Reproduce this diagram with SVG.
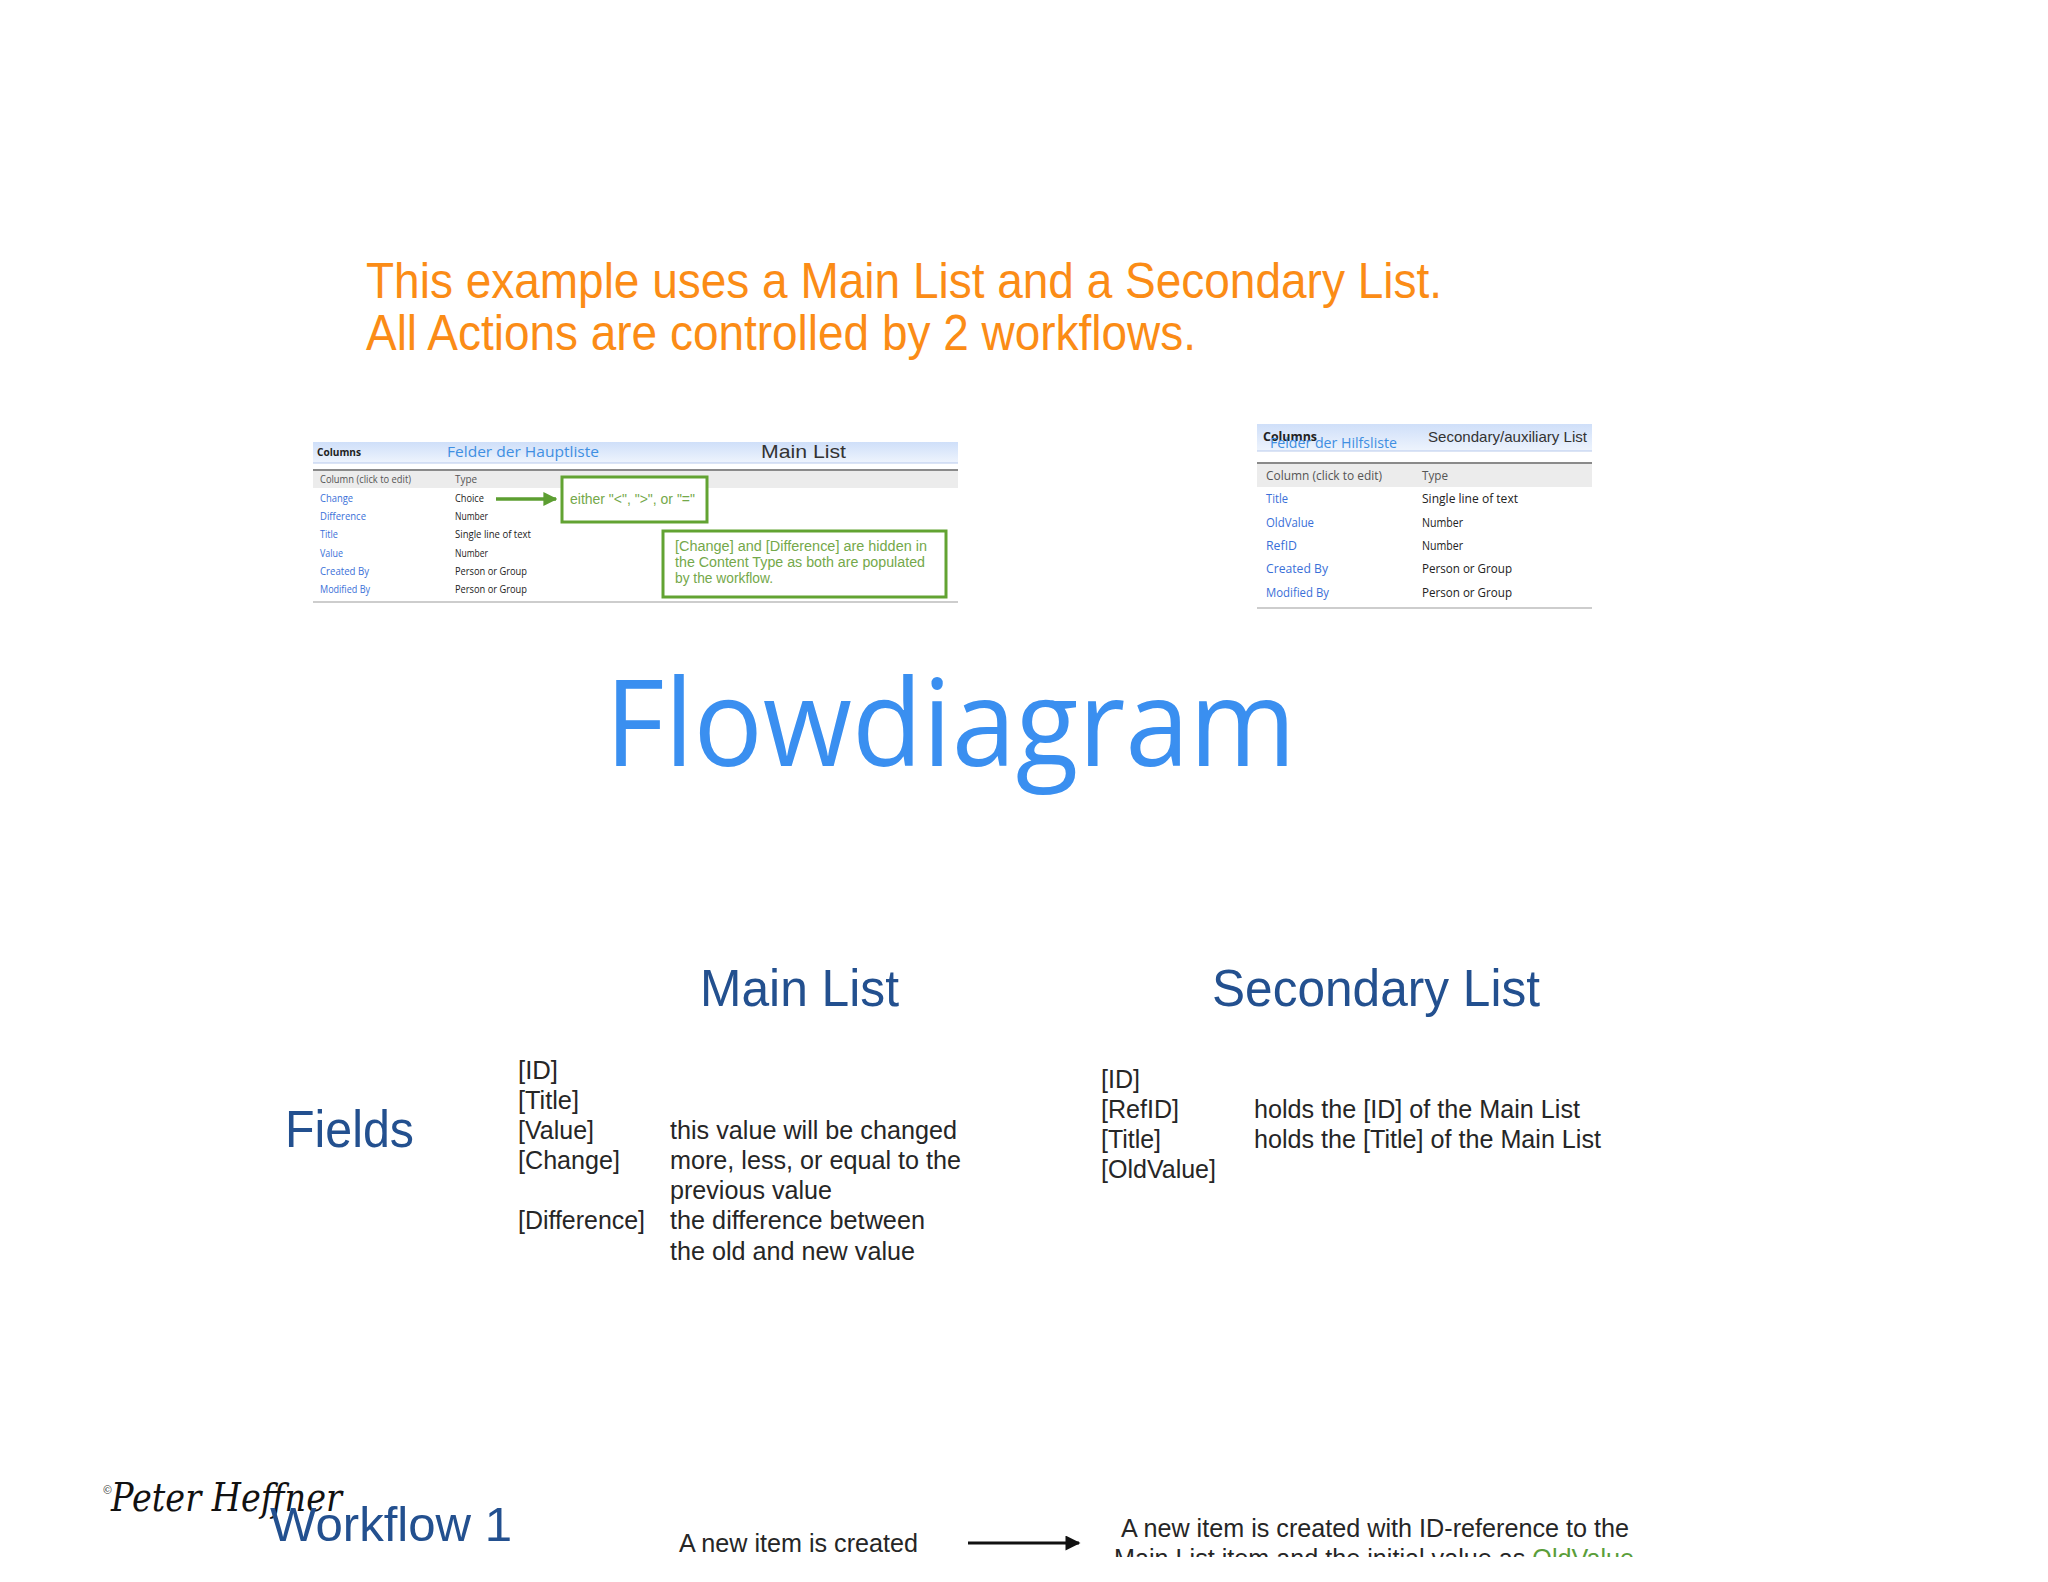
<svg xmlns="http://www.w3.org/2000/svg" width="2048" height="1582" viewBox="0 0 2048 1582">
<style>
.sans{font-family:"Liberation Sans",Arial,sans-serif}
.os{font-family:"Open Sans","Noto Sans",sans-serif}
.orange{fill:#fb8c16;font-size:50px}
.head{fill:#23508f;font-size:52px}
.body{fill:#262626;font-size:25px}
.tbl{font-family:"Open Sans","Noto Sans",sans-serif;font-size:10px;fill:#222}
.tbl2{font-family:"Open Sans","Noto Sans",sans-serif;font-size:12.5px;fill:#222}
.lnk{fill:#3a6fd8}
.hdr{fill:#555}
.gbox{fill:#fff;stroke:#62a332;stroke-width:3}
.gtxt{font-family:"Liberation Sans",Arial,sans-serif;fill:#74a84a}
</style>
<defs>
<linearGradient id="band" x1="0" y1="0" x2="0" y2="1">
<stop offset="0" stop-color="#cfdff9"/>
<stop offset="1" stop-color="#eef4fd"/>
</linearGradient>
<marker id="garrow" viewBox="0 0 10 10" refX="9" refY="5" markerWidth="4" markerHeight="4" orient="auto">
<path d="M0,0 L10,5 L0,10 z" fill="#5c9e31"/>
</marker>
<marker id="barrow" viewBox="0 0 10 10" refX="9" refY="5" markerWidth="7" markerHeight="5" orient="auto">
<path d="M0,0 L10,5 L0,10 z" fill="#111"/>
</marker>
<clipPath id="cut"><rect x="0" y="0" width="2048" height="1557"/></clipPath>
</defs>
<rect width="2048" height="1582" fill="#fff"/>

<g id="intro" class="sans">
<text class="orange" x="366" y="298" textLength="1076" lengthAdjust="spacingAndGlyphs">This example uses a Main List and a Secondary List.</text>
<text class="orange" x="366" y="350" textLength="830" lengthAdjust="spacingAndGlyphs">All Actions are controlled by 2 workflows.</text>
</g>

<g id="main-table">
<rect x="313" y="442" width="645" height="21" fill="url(#band)"/>
<line x1="313" y1="463" x2="958" y2="463" stroke="#b7c9ec" stroke-width="1"/>
<text class="tbl" x="317" y="456" font-weight="bold" textLength="44" lengthAdjust="spacingAndGlyphs">Columns</text>
<text class="os" x="447" y="457" font-size="15" fill="#3f8fe2" textLength="152" lengthAdjust="spacingAndGlyphs">Felder der Hauptliste</text>
<text class="sans" x="761" y="458" font-size="19" fill="#333" textLength="85" lengthAdjust="spacingAndGlyphs">Main List</text>
<rect x="313" y="470" width="645" height="18" fill="#ececec"/>
<line x1="313" y1="470" x2="958" y2="470" stroke="#8a8a8a" stroke-width="2"/>
<text class="tbl hdr" x="320" y="483" textLength="91" lengthAdjust="spacingAndGlyphs">Column (click to edit)</text>
<text class="tbl hdr" x="455" y="483" textLength="22" lengthAdjust="spacingAndGlyphs">Type</text>
<text class="tbl lnk" x="320" y="502" textLength="33" lengthAdjust="spacingAndGlyphs">Change</text>
<text class="tbl" x="455" y="502" textLength="29" lengthAdjust="spacingAndGlyphs">Choice</text>
<text class="tbl lnk" x="320" y="520" textLength="46" lengthAdjust="spacingAndGlyphs">Difference</text>
<text class="tbl" x="455" y="520" textLength="33" lengthAdjust="spacingAndGlyphs">Number</text>
<text class="tbl lnk" x="320" y="538" textLength="18" lengthAdjust="spacingAndGlyphs">Title</text>
<text class="tbl" x="455" y="538" textLength="76" lengthAdjust="spacingAndGlyphs">Single line of text</text>
<text class="tbl lnk" x="320" y="557" textLength="23" lengthAdjust="spacingAndGlyphs">Value</text>
<text class="tbl" x="455" y="557" textLength="33" lengthAdjust="spacingAndGlyphs">Number</text>
<text class="tbl lnk" x="320" y="575" textLength="49" lengthAdjust="spacingAndGlyphs">Created By</text>
<text class="tbl" x="455" y="575" textLength="72" lengthAdjust="spacingAndGlyphs">Person or Group</text>
<text class="tbl lnk" x="320" y="593" textLength="50" lengthAdjust="spacingAndGlyphs">Modified By</text>
<text class="tbl" x="455" y="593" textLength="72" lengthAdjust="spacingAndGlyphs">Person or Group</text>
<line x1="313" y1="602" x2="958" y2="602" stroke="#bdbdbd" stroke-width="1.5"/>
</g>

<g id="note-choice">
<rect class="gbox" x="562" y="477" width="145" height="45"/>
<text class="gtxt" x="570" y="504" font-size="15" textLength="125" lengthAdjust="spacingAndGlyphs">either "&lt;", "&gt;", or "="</text>
</g>

<g id="note-hidden">
<rect class="gbox" x="663" y="531" width="283" height="66"/>
<text class="gtxt" font-size="14">
<tspan x="675" y="551" textLength="252" lengthAdjust="spacingAndGlyphs">[Change] and [Difference] are hidden in</tspan>
<tspan x="675" y="567" textLength="250" lengthAdjust="spacingAndGlyphs">the Content Type as both are populated</tspan>
<tspan x="675" y="583" textLength="98" lengthAdjust="spacingAndGlyphs">by the workflow.</tspan>
</text>
</g>

<g id="secondary-table">
<rect x="1257" y="424" width="335" height="27" fill="url(#band)"/>
<line x1="1257" y1="451" x2="1592" y2="451" stroke="#b7c9ec" stroke-width="1"/>
<text class="tbl2" x="1263" y="441" font-weight="bold" textLength="54" lengthAdjust="spacingAndGlyphs">Columns</text>
<text class="os" x="1270" y="448" font-size="15" fill="#3f8fe2" textLength="127" lengthAdjust="spacingAndGlyphs">Felder der Hilfsliste</text>
<text class="sans" x="1428" y="442" font-size="15" fill="#333" textLength="159" lengthAdjust="spacingAndGlyphs">Secondary/auxiliary List</text>
<rect x="1257" y="463" width="335" height="24" fill="#ececec"/>
<line x1="1257" y1="463" x2="1592" y2="463" stroke="#8a8a8a" stroke-width="2"/>
<text class="tbl2 hdr" x="1266" y="480" textLength="116" lengthAdjust="spacingAndGlyphs">Column (click to edit)</text>
<text class="tbl2 hdr" x="1422" y="480" textLength="26" lengthAdjust="spacingAndGlyphs">Type</text>
<text class="tbl2 lnk" x="1266" y="503" textLength="22" lengthAdjust="spacingAndGlyphs">Title</text>
<text class="tbl2" x="1422" y="503" textLength="96" lengthAdjust="spacingAndGlyphs">Single line of text</text>
<text class="tbl2 lnk" x="1266" y="527" textLength="48" lengthAdjust="spacingAndGlyphs">OldValue</text>
<text class="tbl2" x="1422" y="527" textLength="41" lengthAdjust="spacingAndGlyphs">Number</text>
<text class="tbl2 lnk" x="1266" y="550" textLength="31" lengthAdjust="spacingAndGlyphs">RefID</text>
<text class="tbl2" x="1422" y="550" textLength="41" lengthAdjust="spacingAndGlyphs">Number</text>
<text class="tbl2 lnk" x="1266" y="573" textLength="62" lengthAdjust="spacingAndGlyphs">Created By</text>
<text class="tbl2" x="1422" y="573" textLength="90" lengthAdjust="spacingAndGlyphs">Person or Group</text>
<text class="tbl2 lnk" x="1266" y="597" textLength="63" lengthAdjust="spacingAndGlyphs">Modified By</text>
<text class="tbl2" x="1422" y="597" textLength="90" lengthAdjust="spacingAndGlyphs">Person or Group</text>
<line x1="1257" y1="608" x2="1592" y2="608" stroke="#bdbdbd" stroke-width="1.5"/>
</g>

<g id="title">
<text class="os" x="605" y="766" font-size="121" fill="#3a8ff0" textLength="691" lengthAdjust="spacingAndGlyphs">Flowdiagram</text>
</g>

<g id="main-list" class="sans">
<text class="head" x="700" y="1006" textLength="199" lengthAdjust="spacingAndGlyphs">Main List</text>
<text class="body" x="518" y="1079" textLength="40" lengthAdjust="spacingAndGlyphs">[ID]</text>
<text class="body" x="518" y="1109" textLength="61" lengthAdjust="spacingAndGlyphs">[Title]</text>
<text class="body" x="518" y="1139" textLength="76" lengthAdjust="spacingAndGlyphs">[Value]</text>
<text class="body" x="518" y="1169" textLength="102" lengthAdjust="spacingAndGlyphs">[Change]</text>
<text class="body" x="518" y="1229" textLength="127" lengthAdjust="spacingAndGlyphs">[Difference]</text>
<text class="body" x="670" y="1139" textLength="287" lengthAdjust="spacingAndGlyphs">this value will be changed</text>
<text class="body" x="670" y="1169" textLength="291" lengthAdjust="spacingAndGlyphs">more, less, or equal to the</text>
<text class="body" x="670" y="1199" textLength="162" lengthAdjust="spacingAndGlyphs">previous value</text>
<text class="body" x="670" y="1229" textLength="255" lengthAdjust="spacingAndGlyphs">the difference between</text>
<text class="body" x="670" y="1260" textLength="245" lengthAdjust="spacingAndGlyphs">the old and new value</text>
</g>

<g id="fields-label" class="sans">
<text class="head" x="285" y="1147" textLength="129" lengthAdjust="spacingAndGlyphs">Fields</text>
</g>

<g id="secondary-list" class="sans">
<text class="head" x="1212" y="1006" textLength="328" lengthAdjust="spacingAndGlyphs">Secondary List</text>
<text class="body" x="1101" y="1088" textLength="39" lengthAdjust="spacingAndGlyphs">[ID]</text>
<text class="body" x="1101" y="1118" textLength="78" lengthAdjust="spacingAndGlyphs">[RefID]</text>
<text class="body" x="1101" y="1148" textLength="60" lengthAdjust="spacingAndGlyphs">[Title]</text>
<text class="body" x="1101" y="1178" textLength="115" lengthAdjust="spacingAndGlyphs">[OldValue]</text>
<text class="body" x="1254" y="1118" textLength="326" lengthAdjust="spacingAndGlyphs">holds the [ID] of the Main List</text>
<text class="body" x="1254" y="1148" textLength="347" lengthAdjust="spacingAndGlyphs">holds the [Title] of the Main List</text>
</g>

<g id="signature">
<text x="102" y="1494" font-family="'DejaVu Serif',serif" font-size="11" fill="#333">©</text>
<text x="111" y="1511" font-family="'DejaVu Serif',serif" font-style="italic" font-size="40" fill="#111" textLength="231" lengthAdjust="spacingAndGlyphs">Peter Heffner</text>
</g>

<g id="workflow1" class="sans">
<text x="270" y="1541" font-size="48" fill="#23508f" textLength="242" lengthAdjust="spacingAndGlyphs">Workflow 1</text>
</g>

<g id="step-created" class="sans">
<text class="body" x="679" y="1552" font-size="24" textLength="239" lengthAdjust="spacingAndGlyphs">A new item is created</text>
</g>

<g id="step-secondary" class="sans" clip-path="url(#cut)">
<text class="body" x="1121" y="1537" font-size="24" textLength="508" lengthAdjust="spacingAndGlyphs">A new item is created with ID-reference to the</text>
<text class="body" x="1114" y="1567" font-size="24" textLength="520" lengthAdjust="spacingAndGlyphs">Main List item and the initial value as <tspan fill="#5a9e3a">OldValue</tspan></text>
</g>

<g id="connectors">
<line x1="496" y1="499" x2="556" y2="499" stroke="#5c9e31" stroke-width="3.5" marker-end="url(#garrow)"/>
<line x1="968" y1="1543" x2="1079" y2="1543" stroke="#111" stroke-width="3" marker-end="url(#barrow)"/>
</g>
</svg>
